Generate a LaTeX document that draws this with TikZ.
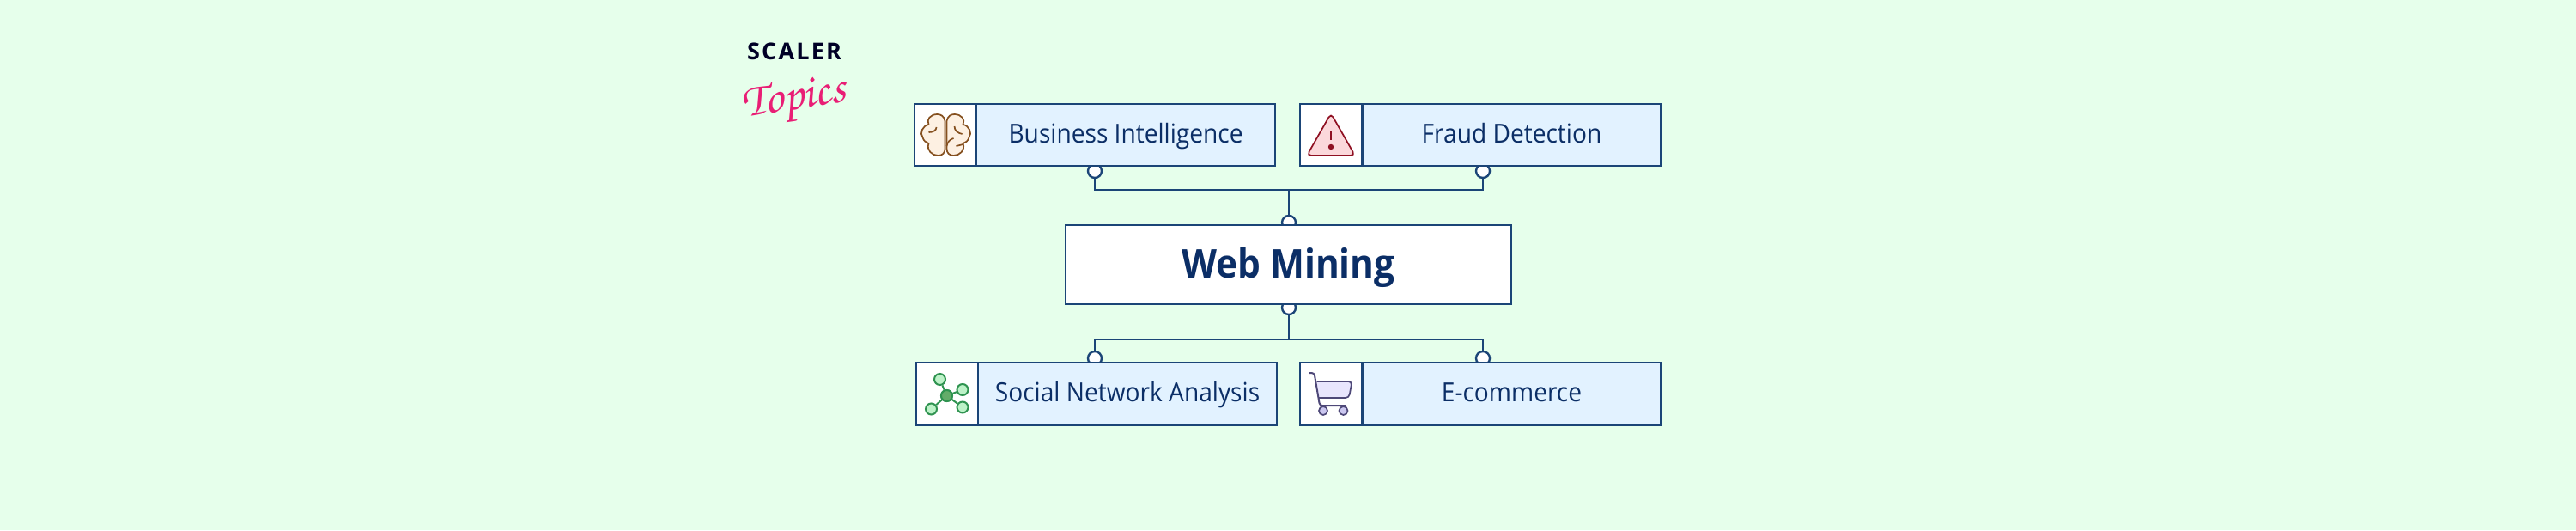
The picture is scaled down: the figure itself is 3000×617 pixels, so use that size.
\documentclass[tikz,border=0pt]{standalone}
\usepackage[T1,TU]{fontenc}
\usepackage{fontspec}
\setmainfont{Open Sans}
\newfontfamily\labelfont[FakeStretch=0.92]{Open Sans}
\newfontfamily\logofont[LetterSpace=8]{Open Sans}
\definecolor{bgcol}{HTML}{E6FFEB}
\definecolor{linecol}{HTML}{1B4577}
\definecolor{cellcol}{HTML}{E2F2FF}
\definecolor{textcol}{HTML}{0B2E66}
\tikzset{
	cell/.style={draw=linecol, line width=0.24mm, inner sep=0, minimum height=7.25mm},
	iconcell/.style={cell, fill=white, minimum width=7.25mm},
	labelcell/.style={cell, fill=cellcol, minimum width=34.8mm, text=textcol, text height=2.1mm, text depth=0.3mm, font=\labelfont\fontsize{8.7pt}{10pt}\selectfont},
	port/.style={circle, draw=linecol, line width=0.24mm, fill=white, inner sep=0, minimum size=1.6mm},
	wire/.style={draw=linecol, line width=0.24mm},
	netdot/.style={circle, draw=netline, line width=0.2mm, fill=netfill, inner sep=0, minimum size=1.3mm},
}
\definecolor{netline}{HTML}{2F9350}
\definecolor{netfill}{HTML}{BDF2C8}
\definecolor{brainline}{HTML}{85501F}
\definecolor{brainfill}{HTML}{FDF0E2}
\definecolor{warnline}{HTML}{8F1022}
\definecolor{warnfill}{HTML}{FBD8DB}
\definecolor{cartline}{HTML}{4E4878}
\definecolor{cartfill}{HTML}{E8E5FD}
\definecolor{wheelfill}{HTML}{CBC7F0}
\definecolor{logopink}{HTML}{E91E75}

\begin{document}
\begin{tikzpicture}[x=0.1mm, y=-0.1mm]
	%%%%% START %%%%%
	\fill[bgcol] (0, 0) rectangle (3000, 617);

	% logo
	\node[text=black!85!blue, font=\logofont\bfseries\fontsize{7.7pt}{9pt}\selectfont, inner sep=0] (scaler) at (925, 60) {SCALER};
	\node[text=logopink, rotate=9, inner sep=0, font=\usefont{T1}{pzc}{mb}{it}\fontsize{15.5pt}{17pt}\selectfont] (topics) at (925, 118) {Topics};

	% ports and wires go under the boxes
	\node[port] (biport) at (1275, 199) {};
	\node[port] (fdport) at (1727, 199) {};
	\node[port] (wmtop) at (1501, 259) {};
	\node[port] (wmbot) at (1501, 358) {};
	\node[port] (snport) at (1275, 417) {};
	\node[port] (ecport) at (1727, 417) {};
	\coordinate (topjoin) at (1501, 221);
	\coordinate (botjoin) at (1501, 395);
	\draw[wire] (biport) |- (topjoin) -| (fdport);
	\draw[wire] (topjoin) -- (wmtop);
	\draw[wire] (snport) |- (botjoin) -| (ecport);
	\draw[wire] (botjoin) -- (wmbot);

	% boxes
	\node[iconcell] (biicon) at (1101, 157) {};
	\node[labelcell] (bilabel) at (1311, 157) {Business Intelligence};
	\node[iconcell] (fdicon) at (1550.5, 157) {};
	\node[labelcell] (fdlabel) at (1760.5, 157) {Fraud Detection};
	\node[cell, fill=white, minimum width=51.9mm, minimum height=9.2mm, text=textcol, text height=3.3mm, text depth=0.2mm, font=\labelfont\bfseries\fontsize{13.1pt}{15pt}\selectfont] (web) at (1500.5, 308) {Web Mining};
	\node[iconcell] (snicon) at (1103, 458.5) {};
	\node[labelcell] (snlabel) at (1313, 458.5) {Social Network Analysis};
	\node[iconcell] (ecicon) at (1550.5, 458.5) {};
	\node[labelcell] (eclabel) at (1760.5, 458.5) {E-commerce};

	% brain
	\begin{scope}[shift={(1101.5, 157)}, line width=0.17mm, draw=brainline, fill=brainfill]
		\foreach \s in {1, -1} {
			\begin{scope}[xscale=\s]
				\filldraw (-1, -16) .. controls (-2, -22) and (-6, -24) .. (-10, -24) .. controls (-18, -24) and (-23, -18) .. (-20, -12) .. controls (-27, -11) and (-31, -2) .. (-27, 3) .. controls (-26, 7) and (-23, 9) .. (-20, 10) .. controls (-23, 18) and (-16, 24) .. (-9, 24) .. controls (-4, 24) and (-1, 21) .. (-1, 16) -- cycle;
			\end{scope}
		}
		\draw (-11, -9) .. controls (-11, -5) and (-15, -3) .. (-20, -3);
		\draw (10, -10) .. controls (10, -5) and (14, -2) .. (19, -1);
		\draw (1, 13) .. controls (2, 8) and (5, 5) .. (9, 4);
		\draw (20, 11) -- (12, 13);
	\end{scope}

	% warning sign
	\filldraw[draw=warnline, fill=warnfill, line width=0.17mm, rounded corners=0.5mm] (1550, 132) -- (1578, 181) -- (1522, 181) -- cycle;
	\draw[warnline, line width=0.2mm] (1550, 152) -- (1550, 163);
	\fill[warnline] (1550, 171) circle (3.2);

	% network
	\node[netdot] (netc) at (1102.5, 460.5) {};
	\node[netdot] (neta) at (1094.5, 441.5) {};
	\node[netdot] (netb) at (1121, 453.5) {};
	\node[netdot] (netd) at (1121, 474) {};
	\node[netdot] (nete) at (1084.5, 476) {};
	\foreach \n in {neta, netb, netd, nete} \draw[netline, line width=0.2mm] (netc) -- (\n);
	\node[netdot, fill=netfill!75!green!70!black] at (netc) {};

	% cart
	\filldraw[draw=cartline, fill=cartfill, line width=0.17mm, rounded corners=0.4mm] (1533.5, 444) -- (1574.5, 444) -- (1571, 463) -- (1536, 463);
	\draw[cartline, line width=0.2mm, rounded corners=0.3mm] (1524, 434) -- (1530.5, 434) -- (1537, 472) -- (1567, 472);
	\filldraw[draw=cartline, fill=wheelfill, line width=0.17mm] (1541, 478) circle (5);
	\filldraw[draw=cartline, fill=wheelfill, line width=0.17mm] (1564.5, 478) circle (5);
	%%%%% END %%%%%
\end{tikzpicture}
\end{document}
